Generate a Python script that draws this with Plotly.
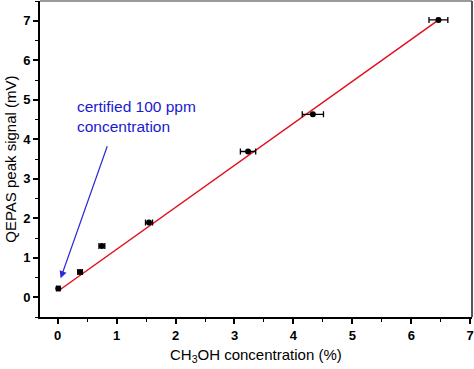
import plotly.graph_objects as go

# Data
conc = [0.01, 0.38, 0.75, 1.55, 3.23, 4.33, 6.46]
signal = [0.22, 0.64, 1.30, 1.89, 3.69, 4.63, 7.02]
conc_err = [0.03, 0.04, 0.05, 0.06, 0.13, 0.18, 0.16]
signal_err = [0.03, 0.04, 0.04, 0.04, 0.04, 0.04, 0.04]

fit_slope = 1.063
fit_intercept = 0.15
fit_x = [0.02, 6.47]
fit_y = [fit_intercept + fit_slope * x for x in fit_x]

x_ticks = [0, 1, 2, 3, 4, 5, 6, 7]
y_ticks = [0, 1, 2, 3, 4, 5, 6, 7]

x_title = "CH<sub>3</sub>OH concentration (%)"
y_title = "QEPAS peak signal (mV)"
annot_text = "certified 100 ppm<br>concentration"
arrow_head = (0.05, 0.48)
arrow_tail = (0.85, 3.86)

font_family = "Arial, Liberation Sans, sans-serif"

fig = go.Figure()

fig.add_trace(go.Scatter(
    x=fit_x, y=fit_y, mode="lines",
    line=dict(color="#e01020", width=1.5),
    showlegend=False, hoverinfo="skip",
))

fig.add_trace(go.Scatter(
    x=conc, y=signal, mode="markers",
    marker=dict(color="black", size=6),
    error_x=dict(type="data", array=conc_err, color="black", thickness=1.3, width=3),
    error_y=dict(type="data", array=signal_err, color="black", thickness=1.3, width=2),
    showlegend=False,
))

fig.add_annotation(
    x=arrow_head[0], y=arrow_head[1], ax=arrow_tail[0], ay=arrow_tail[1],
    xref="x", yref="y", axref="x", ayref="y",
    text="", showarrow=True, arrowhead=2, arrowsize=1.2, arrowwidth=1.2,
    arrowcolor="#2a2ad6",
)
fig.add_annotation(
    x=0.29, y=5.1, xref="x", yref="y", xanchor="left", yanchor="top",
    text=annot_text, showarrow=False, align="left",
    font=dict(family=font_family, size=15.5, color="#1a1ad0"),
)

# axis titles
fig.add_annotation(
    x=0.499, y=-0.122, xref="paper", yref="paper", xanchor="center", yanchor="middle",
    text=x_title, showarrow=False,
    font=dict(family=font_family, size=15, color="black"),
)
fig.add_annotation(
    x=-0.07, y=0.5, xref="paper", yref="paper", xanchor="center", yanchor="middle",
    text=y_title, showarrow=False, textangle=-90,
    font=dict(family=font_family, size=15, color="black"),
)

# frame (top grey, right dark grey)
fig.add_shape(type="line", xref="paper", yref="paper", x0=0, x1=1, y0=1, y1=1,
              line=dict(color="#9a9a9a", width=2))
fig.add_shape(type="line", xref="paper", yref="paper", x0=1, x1=1, y0=0, y1=1,
              line=dict(color="#555555", width=2))

fig.update_layout(
    width=474, height=369,
    margin=dict(l=40, r=2, t=1, b=52),
    plot_bgcolor="white", paper_bgcolor="white",
    font=dict(family=font_family, color="black"),
    xaxis=dict(
        range=[-0.3, 7.03], tickvals=x_ticks, ticks="outside", ticklen=5, tickwidth=1.5,
        tickcolor="black", showline=True, linecolor="black", linewidth=2,
        showgrid=False, zeroline=False, automargin=False, ticklabeloverflow="allow",
        tickfont=dict(size=13, family=font_family, weight="bold"),
        minor=dict(dtick=0.5, ticks="outside", ticklen=3, tickwidth=1.2, tickcolor="black"),
    ),
    yaxis=dict(
        range=[-0.5, 7.5], tickvals=y_ticks, ticks="outside", ticklen=5, tickwidth=1.5,
        tickcolor="black", showline=True, linecolor="black", linewidth=2,
        showgrid=False, zeroline=False, automargin=False,
        tickfont=dict(size=13, family=font_family, weight="bold"),
        minor=dict(dtick=0.5, ticks="outside", ticklen=3, tickwidth=1.2, tickcolor="black"),
    ),
)

post = (
    "document.body.style.margin='0';"
    "var gd=document.getElementById('{plot_id}');"
    "Plotly.redraw(gd);"
)
fig.write_html("out.html", config={"displayModeBar": False}, post_script=post)
